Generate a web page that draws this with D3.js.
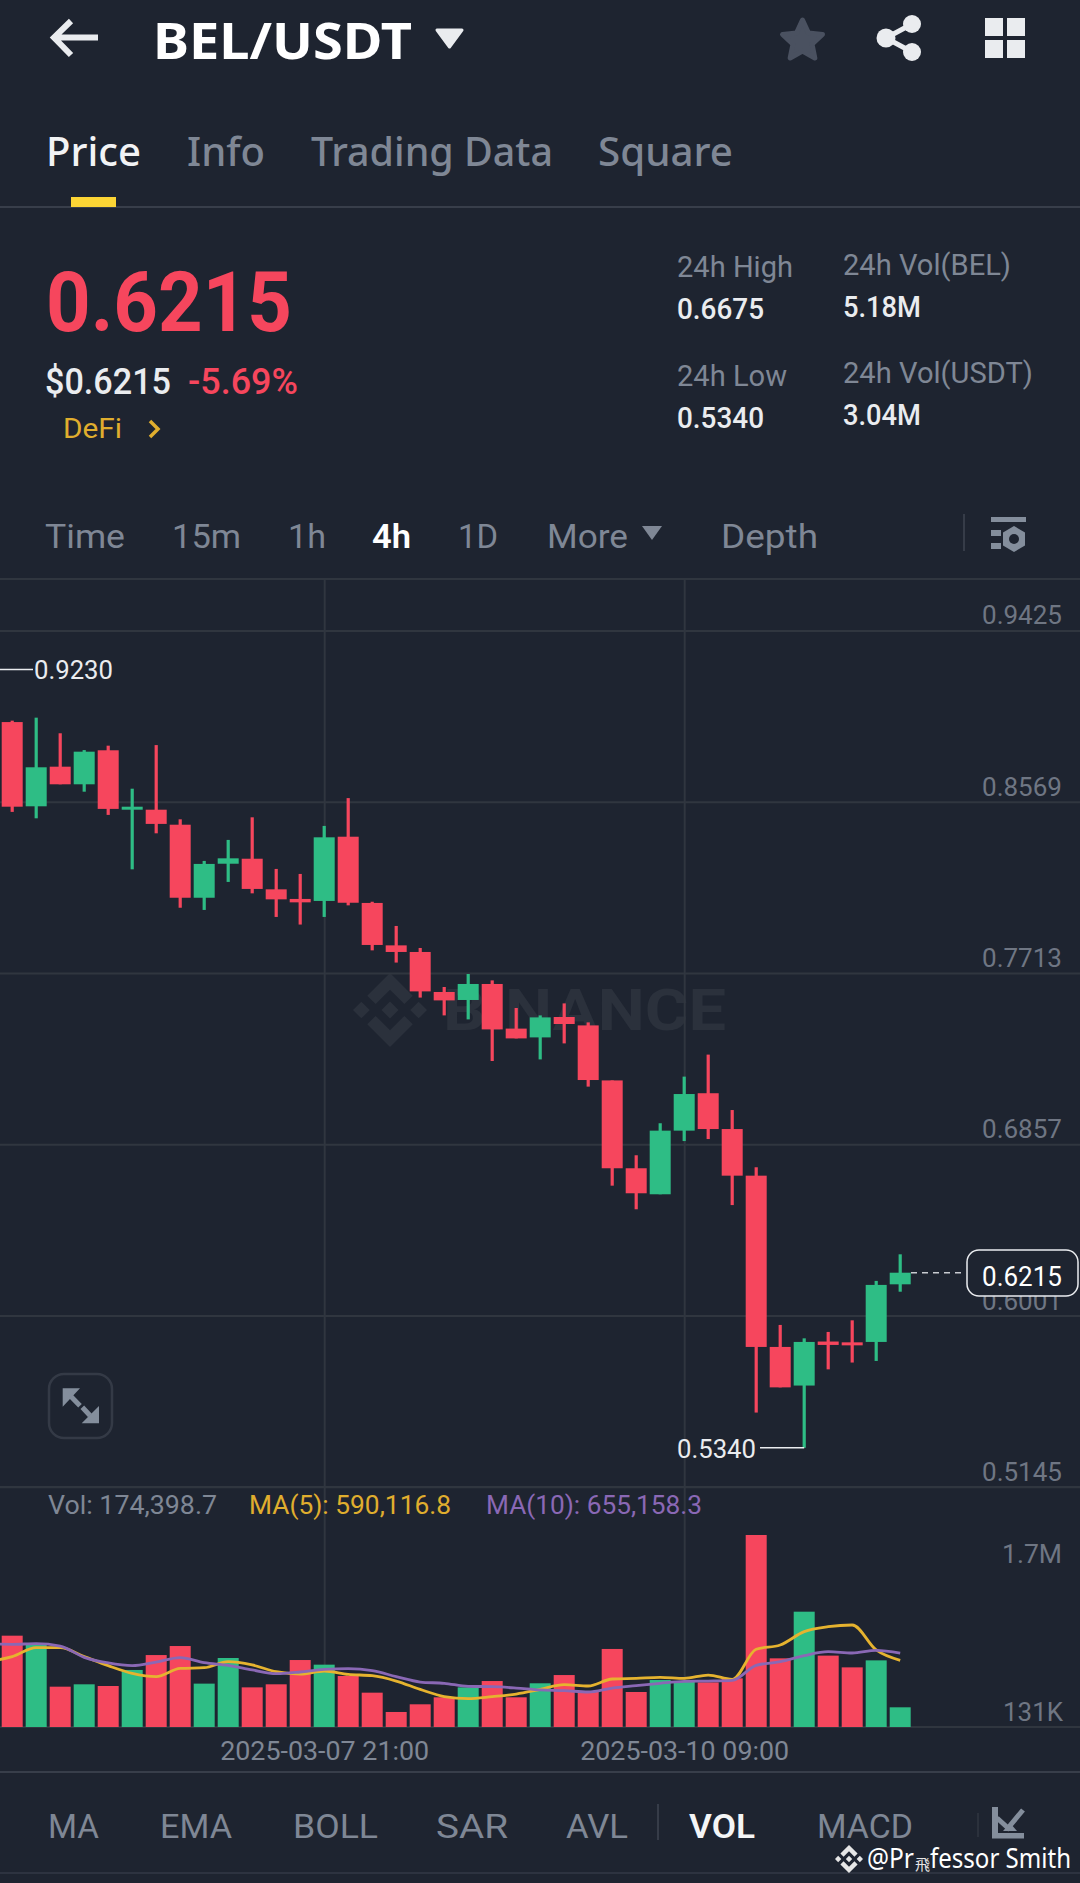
<!DOCTYPE html>
<html>
<head>
<meta charset="utf-8">
<title>BEL/USDT</title>
<script src="https://cdn.jsdelivr.net/npm/d3@7"></script>
<style>
  html, body { margin: 0; padding: 0; background: #1e2430; }
  svg { display: block; }
</style>
</head>
<body>
<div id="viz_container"></div>
<script>
// candles
var opens  = [.8967,.8546,.8744,.8656,.8826,.8529,.8529,.8454,.8089,.8259,.8284,.8131,.8083,.8073,.8394,.8063,.7851,.7818,.7618,.7578,.7658,.7435,.7391,.7493,.7451,.7176,.6737,.6607,.6925,.7112,.6933,.6700,.5844,.5651,.5871,.5867,.5869,.6157];
var highs  = [.8974,.8989,.8911,.8827,.8849,.8634,.8852,.8481,.8273,.8378,.8491,.8233,.8208,.8448,.8587,.8069,.7948,.7838,.7643,.7708,.7676,.7538,.7501,.7561,.7466,.7176,.6802,.6962,.7195,.7305,.7028,.6742,.5954,.5887,.5919,.5977,.6174,.6307];
var lows   = [.8518,.8486,.8656,.8619,.8503,.8231,.8411,.8039,.8028,.8168,.8111,.7993,.7955,.7993,.8051,.7826,.7765,.7590,.7501,.7481,.7273,.7386,.7281,.7361,.7145,.6650,.6532,.6607,.6873,.6883,.6553,.5516,.5642,.5340,.5732,.5766,.5774,.6120];
var closes = [.8544,.8741,.8656,.8819,.8533,.8544,.8458,.8089,.8258,.8286,.8133,.8081,.8066,.8391,.8064,.7853,.7818,.7621,.7576,.7658,.7431,.7386,.7491,.7458,.7178,.6737,.6612,.6925,.7108,.6933,.6700,.5844,.5642,.5869,.5854,.5852,.6154,.6215];

// volume bars, plus the two averages (first average value sits one candle off the left edge)
var volumes = [808600,726000,357000,378000,363000,505000,637000,717000,384000,611000,351000,378000,593000,552000,452000,304000,133000,201000,263000,351000,407000,263000,387000,460000,313000,691000,310000,416000,401000,395000,431000,1700000,608000,1021000,632000,528000,590000,174398.7];
var maFive = [578000,623000,702000,702000,623000,543000,475000,446000,519000,525000,578000,549000,490000,469000,496000,466000,454000,407000,333000,269000,251000,269000,292000,333000,375000,363000,425000,431000,440000,431000,460000,422000,688000,726000,844000,888000,903000,682000,590116.8];
var maTen  = [735000,732000,738000,717000,617000,567000,543000,575000,614000,570000,546000,505000,472000,487000,511000,516000,499000,446000,398000,387000,360000,357000,345000,328000,322000,310000,345000,366000,387000,404000,407000,413000,546000,578000,632000,667000,655000,679000,655158.3];

var priceTicks = [0.9425, 0.8569, 0.7713, 0.6857, 0.6001, 0.5145];
var timeTickIndex = [13, 28];
var timeTickLabels = ["2025-03-07 21:00", "2025-03-10 09:00"];
var volTickLabels = ["1.7M", "131K"];
var lastPrice = 0.6215, lowMark = 0.5340, highMark = 0.9230;

var bg = "#1e2430", red = "#f6465d", green = "#2ebd85", white = "#eaecef",
    grey = "#7f8795", gridCol = "#30363f", lineCol = "#383e4a", gold = "#e0ae2e",
    yellowLine = "#e6b32f", purple = "#8a68b5";
var numFont = "Roboto", uiFont = "'Noto Sans'";

var svg = d3.select("#viz_container").append("svg").attr("width", 1080).attr("height", 1883);
svg.append("rect").attr("width", 1080).attr("height", 1883).attr("fill", bg);

function txt(s, x, y, size, color, width, opts) {
    opts = opts || {};
    var t = svg.append("text").attr("x", x).attr("y", y).text(s)
        .attr("font-family", opts.font || numFont).attr("font-size", size)
        .attr("font-weight", opts.weight || 400).attr("fill", color);
    if (width) t.attr("textLength", width).attr("lengthAdjust", "spacingAndGlyphs");
    return t;
}
function hline(y, color, w) {
    svg.append("line").attr("x1", 0).attr("x2", 1080).attr("y1", y).attr("y2", y)
        .attr("stroke", color).attr("stroke-width", w || 2);
}

//header
svg.append("path").attr("d", "M71 21L54 37.5L71 55M55 37.5H98").attr("fill", "none")
    .attr("stroke", white).attr("stroke-width", 6);
txt("BEL/USDT", 153, 59, 50, "#ffffff", 259, {font: uiFont, weight: 700});
svg.append("path").attr("d", "M437 30H462L449.5 47Z").attr("fill", white)
    .attr("stroke", white).attr("stroke-width", 3).attr("stroke-linejoin", "round");

var star = d3.lineRadial().curve(d3.curveLinearClosed)
    .angle(function(d, i) { return i * Math.PI / 5; })
    .radius(function(d) { return d; });
svg.append("path").attr("d", star([21, 10, 21, 10, 21, 10, 21, 10, 21, 10]))
    .attr("transform", "translate(802.5,41)").attr("fill", "#4a5160")
    .attr("stroke", "#4a5160").attr("stroke-width", 5).attr("stroke-linejoin", "round");

svg.append("path").attr("d", "M912 24L886 38L912 52").attr("fill", "none").attr("stroke", white).attr("stroke-width", 5);
[[912, 24, 9], [886, 38, 9.5], [912, 52, 9]].forEach(function(c) {
    svg.append("circle").attr("cx", c[0]).attr("cy", c[1]).attr("r", c[2]).attr("fill", white);
});
[[985, 18], [1007, 18], [985, 40], [1007, 40]].forEach(function(c) {
    svg.append("rect").attr("x", c[0]).attr("y", c[1]).attr("width", 18).attr("height", 18).attr("fill", white);
});

txt("Price", 46, 166, 40, "#f2f3f5", 95, {font: uiFont, weight: 500});
txt("Info", 187, 166, 40, grey, 78, {font: uiFont, weight: 500});
txt("Trading Data", 311, 166, 40, grey, 242, {font: uiFont, weight: 500});
txt("Square", 598, 166, 40, grey, 135, {font: uiFont, weight: 500});
hline(207, lineCol);
svg.append("rect").attr("x", 71).attr("y", 197).attr("width", 45).attr("height", 10).attr("fill", "#fcd535");

//price block
txt("0.6215", 46, 331, 84, red, 246, {weight: 700});
txt("$0.6215", 45, 394, 36, white, 126, {weight: 500});
txt("-5.69%", 188, 394, 36, red, 110, {weight: 500});
txt("DeFi", 63, 438, 28, gold, 59);
svg.append("path").attr("d", "M150 421L158 429L150 437").attr("fill", "none").attr("stroke", gold).attr("stroke-width", 3.5);

txt("24h High", 677, 277, 29, grey, 116);
txt("0.6675", 677, 319, 29, white, 87, {weight: 500});
txt("24h Low", 677, 386, 29, grey, 110);
txt("0.5340", 677, 428, 29, white, 87, {weight: 500});
txt("24h Vol(BEL)", 843, 275, 29, grey, 168);
txt("5.18M", 843, 317, 29, white, 78, {weight: 500});
txt("24h Vol(USDT)", 843, 383, 29, grey, 190);
txt("3.04M", 843, 425, 29, white, 78, {weight: 500});

//interval row
txt("Time", 45, 548, 34, grey, 80);
txt("15m", 172, 548, 34, grey, 69);
txt("1h", 288, 548, 34, grey, 38);
txt("4h", 372, 548, 34, "#ffffff", 39, {weight: 600});
txt("1D", 458, 548, 34, grey, 40);
txt("More", 547, 548, 34, grey, 81);
svg.append("path").attr("d", "M642 526H662L652 540Z").attr("fill", grey);
txt("Depth", 721, 548, 34, grey, 97);
svg.append("line").attr("x1", 964).attr("x2", 964).attr("y1", 514).attr("y2", 551).attr("stroke", "#363c48").attr("stroke-width", 2);
svg.append("rect").attr("x", 991).attr("y", 517).attr("width", 35).attr("height", 5).attr("fill", "#848e9c");
svg.append("rect").attr("x", 991).attr("y", 530).attr("width", 10).attr("height", 6).attr("fill", "#848e9c");
svg.append("rect").attr("x", 991).attr("y", 543).attr("width", 10).attr("height", 6).attr("fill", "#848e9c");
svg.append("path").attr("d", "M1014 526L1025 532.5V545.5L1014 552L1003 545.5V532.5Z").attr("fill", "#848e9c");
svg.append("circle").attr("cx", 1014).attr("cy", 539).attr("r", 5).attr("fill", bg);
hline(579, gridCol);

//scales
var x = d3.scaleLinear().domain([0, 37]).range([12.2, 900.2]);
var y = d3.scaleLinear().domain([0.8569, 0.5145]).range([801.7, 1486.8]);
var vol = d3.scaleLinear().domain([0, 1700000]).range([1727, 1535]);

//watermark sits under everything in the chart
var logoPath = "M38.73 53.2l24.59-24.58 24.6 24.6 14.3-14.31L63.32 0 24.42 38.9zM0 63.31l14.3-14.31 14.31 14.31-14.31 14.3zM38.73 73.41l24.59 24.59 24.6-24.6 14.31 14.29-38.9 38.91-38.91-38.88-.02-.02zM98 63.31l14.3-14.31 14.31 14.3-14.31 14.32zM77.83 63.3L63.32 48.78 52.59 59.51l-1.24 1.23-2.54 2.54 14.51 14.5 14.51-14.52z";
svg.append("path").attr("d", logoPath).attr("fill", "#2b313c")
    .attr("transform", "translate(353,973) scale(" + (74 / 126.61) + ")");
txt("BINANCE", 443, 1030, 58, "#2b313c", 283, {weight: 700});

//price axis with its grid lines
var yAxis = svg.append("g").attr("transform", "translate(1080,0)")
    .call(d3.axisLeft(y).tickValues(priceTicks).tickSize(1080).tickFormat(d3.format(".4f")));
yAxis.select(".domain").remove();
yAxis.selectAll("line").attr("stroke", gridCol).attr("stroke-width", 2);
yAxis.selectAll("text").attr("x", -18).attr("dy", -6.5).attr("fill", "#6f7683")
    .attr("font-family", numFont).attr("font-size", 26)
    .attr("textLength", 80).attr("lengthAdjust", "spacingAndGlyphs");

//time axis: vertical grid lines and date labels
var xAxis = svg.append("g").attr("transform", "translate(0,1727)")
    .call(d3.axisBottom(x).tickValues(timeTickIndex).tickSize(-(1727 - 580))
        .tickFormat(function(d, i) { return timeTickLabels[i]; }));
xAxis.select(".domain").remove();
xAxis.selectAll("line").attr("stroke", gridCol).attr("stroke-width", 2);
xAxis.selectAll("text").attr("y", 33).attr("dy", 0).attr("fill", grey)
    .attr("font-family", numFont).attr("font-size", 26)
    .attr("textLength", 209).attr("lengthAdjust", "spacingAndGlyphs");
hline(1487, gridCol);
hline(1727, gridCol);

//candles
var colorOf = function(i) { return closes[i] >= opens[i] ? green : red; };
var candles = svg.append("g").selectAll("g").data(d3.range(opens.length)).join("g");
candles.append("line")
    .attr("x1", function(i) { return x(i); }).attr("x2", function(i) { return x(i); })
    .attr("y1", function(i) { return y(highs[i]); }).attr("y2", function(i) { return y(lows[i]); })
    .attr("stroke", colorOf).attr("stroke-width", 3.2);
candles.append("rect")
    .attr("x", function(i) { return x(i) - 10.5; }).attr("width", 21)
    .attr("y", function(i) { return y(Math.max(opens[i], closes[i])); })
    .attr("height", function(i) { return Math.abs(y(opens[i]) - y(closes[i])); })
    .attr("fill", colorOf);

//high and low markers
svg.append("line").attr("x1", 0).attr("x2", 33).attr("y1", y(highMark)).attr("y2", y(highMark)).attr("stroke", white).attr("stroke-width", 1.5);
txt(highMark.toFixed(4), 34, y(highMark) + 10, 26, white, 79);
svg.append("line").attr("x1", 760).attr("x2", x(33)).attr("y1", y(lowMark)).attr("y2", y(lowMark)).attr("stroke", white).attr("stroke-width", 1.5);
txt(lowMark.toFixed(4), 677, y(lowMark) + 10, 26, white, 79);

//last price tag
svg.append("line").attr("x1", 911).attr("x2", 965).attr("y1", y(lastPrice)).attr("y2", y(lastPrice))
    .attr("stroke", "#c9ccd1").attr("stroke-width", 1.5).attr("stroke-dasharray", "6 5");
svg.append("rect").attr("x", 967).attr("y", 1250).attr("width", 111).attr("height", 46).attr("rx", 12)
    .attr("fill", bg).attr("stroke", white).attr("stroke-width", 1.5);
txt(lastPrice.toFixed(4), 982, 1286, 27, "#ffffff", 80);

//expand button
svg.append("rect").attr("x", 49).attr("y", 1374).attr("width", 63).attr("height", 64).attr("rx", 15)
    .attr("fill", "none").attr("stroke", "#343a46").attr("stroke-width", 2.5);
svg.append("path").attr("d", "M62.7 1388.3H80L62.7 1406.7ZM99 1423.3H81.7L99 1406Z").attr("fill", "#848e9c");
svg.append("path").attr("d", "M71 1396.5L80 1405.7M90 1415.5L82.3 1407.3").attr("fill", "none").attr("stroke", "#848e9c").attr("stroke-width", 5);

//volume legend
txt("Vol: 174,398.7", 48, 1514, 25, grey, 169);
txt("MA(5): 590,116.8", 249, 1514, 25, gold, 202);
txt("MA(10): 655,158.3", 486, 1514, 25, purple, 216);

//volume bars
svg.append("g").selectAll("rect").data(volumes).join("rect")
    .attr("x", function(d, i) { return x(i) - 10.5; }).attr("width", 21)
    .attr("y", function(d) { return vol(d); })
    .attr("height", function(d) { return vol(0) - vol(d); })
    .attr("fill", function(d, i) { return colorOf(i); });

//averages, clipped at the chart's left edge
svg.append("clipPath").attr("id", "chartClip").append("rect").attr("x", 0).attr("y", 1487).attr("width", 1080).attr("height", 240);
var maLine = d3.line().x(function(d, i) { return x(i - 1); }).y(function(d) { return vol(d); }).curve(d3.curveMonotoneX);
[[maFive, yellowLine], [maTen, purple]].forEach(function(s) {
    svg.append("path").attr("d", maLine(s[0])).attr("clip-path", "url(#chartClip)")
        .attr("fill", "none").attr("stroke", s[1]).attr("stroke-width", 2.8);
});

txt(volTickLabels[0], 1062, 1563, 26, "#6f7683", 60).attr("text-anchor", "end");
txt(volTickLabels[1], 1063, 1721, 26, "#6f7683", 60).attr("text-anchor", "end");

//bottom indicator row
hline(1772, lineCol);
txt("MA", 48, 1838, 34, grey, 51);
txt("EMA", 160, 1838, 34, grey, 72);
txt("BOLL", 293, 1838, 34, grey, 85);
txt("SAR", 436, 1838, 34, grey, 72);
txt("AVL", 566, 1838, 34, grey, 62);
txt("VOL", 689, 1838, 34, "#f4f5f6", 66, {weight: 600});
txt("MACD", 817, 1838, 34, grey, 96);
svg.append("line").attr("x1", 658).attr("x2", 658).attr("y1", 1804).attr("y2", 1840).attr("stroke", "#363c48").attr("stroke-width", 2);
svg.append("line").attr("x1", 978).attr("x2", 978).attr("y1", 1813).attr("y2", 1837).attr("stroke", "#2b313c").attr("stroke-width", 2);
svg.append("path").attr("d", "M992 1807H998V1833H1024V1838.5H992Z").attr("fill", "#848e9c");
svg.append("path").attr("d", "M997 1818L1008 1828L1023 1810").attr("fill", "none").attr("stroke", "#848e9c").attr("stroke-width", 5);
svg.append("path").attr("d", "M1003 1831L1010 1823L1017 1831Z").attr("fill", "#848e9c");
hline(1873, "#333946", 1.5);

//author stamp over the bottom row
svg.append("path").attr("d", logoPath).attr("fill", "#e6e6e6")
    .attr("transform", "translate(835,1845) scale(" + (28 / 126.61) + ")");
txt("@Pr", 867, 1868, 27, "#ffffff", 47, {font: uiFont});
txt("飛", 915, 1870, 15, "#e6e6e6", null, {font: "'Noto Sans CJK SC'"});
txt("fessor Smith", 930, 1868, 27, "#ffffff", 141, {font: uiFont});
</script>
</body>
</html>
